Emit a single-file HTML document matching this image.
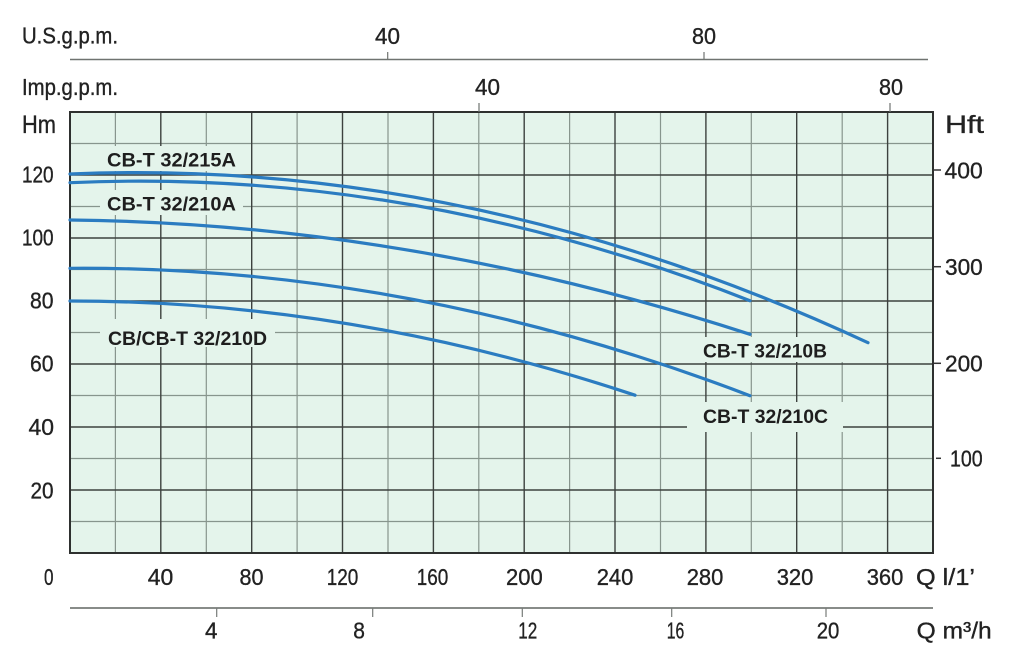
<!DOCTYPE html>
<html><head><meta charset="utf-8"><style>
html,body{margin:0;padding:0;background:#fff;}
svg{display:block;}
text{font-family:"Liberation Sans",sans-serif;fill:#222;stroke:#222;stroke-width:0.35;}
.b{font-weight:bold;fill:#1e1e1e;stroke:none;}
</style></head><body>
<svg width="1018" height="660" viewBox="0 0 1018 660" xmlns="http://www.w3.org/2000/svg">
<rect x="0" y="0" width="1018" height="660" fill="#fff"/>
<!-- plot background -->
<rect x="70" y="112" width="863" height="441" fill="#e4f4eb"/>
<!-- light grid -->
<g stroke="#87958d" stroke-width="1.2">
<line x1="115.4" y1="112" x2="115.4" y2="553"/>
<line x1="206.3" y1="112" x2="206.3" y2="553"/>
<line x1="297.1" y1="112" x2="297.1" y2="553"/>
<line x1="388" y1="112" x2="388" y2="553"/>
<line x1="478.8" y1="112" x2="478.8" y2="553"/>
<line x1="569.6" y1="112" x2="569.6" y2="553"/>
<line x1="660.5" y1="112" x2="660.5" y2="553"/>
<line x1="751.3" y1="112" x2="751.3" y2="553"/>
<line x1="842.2" y1="112" x2="842.2" y2="553"/>
<line x1="70" y1="143.5" x2="933" y2="143.5"/>
<line x1="70" y1="206.5" x2="933" y2="206.5"/>
<line x1="70" y1="269.5" x2="933" y2="269.5"/>
<line x1="70" y1="332.5" x2="933" y2="332.5"/>
<line x1="70" y1="395.5" x2="933" y2="395.5"/>
<line x1="70" y1="458.5" x2="933" y2="458.5"/>
<line x1="70" y1="521.5" x2="933" y2="521.5"/>
</g>
<!-- dark grid -->
<g stroke="#3c413e" stroke-width="1.4">
<line x1="160.8" y1="112" x2="160.8" y2="553"/>
<line x1="251.7" y1="112" x2="251.7" y2="553"/>
<line x1="342.5" y1="112" x2="342.5" y2="553"/>
<line x1="433.4" y1="112" x2="433.4" y2="553"/>
<line x1="524.2" y1="112" x2="524.2" y2="553"/>
<line x1="615" y1="112" x2="615" y2="553"/>
<line x1="705.9" y1="112" x2="705.9" y2="553"/>
<line x1="796.7" y1="112" x2="796.7" y2="553"/>
<line x1="887.6" y1="112" x2="887.6" y2="553"/>
<line x1="70" y1="175" x2="933" y2="175"/>
<line x1="70" y1="238" x2="933" y2="238"/>
<line x1="70" y1="301" x2="933" y2="301"/>
<line x1="70" y1="364" x2="933" y2="364"/>
<line x1="70" y1="427" x2="933" y2="427"/>
<line x1="70" y1="490" x2="933" y2="490"/>
</g>
<!-- label backgrounds -->
<g fill="#e4f4eb">
<rect x="100" y="146" width="143" height="25"/>
<rect x="100" y="190" width="143" height="25"/>
<rect x="100" y="319" width="175" height="28"/>
<rect x="690" y="337" width="153" height="25"/>
<rect x="687" y="402" width="156" height="30"/>
</g>
<!-- frame -->
<rect x="70" y="112" width="863" height="441" fill="none" stroke="#2e302f" stroke-width="2"/>
<!-- curves -->
<g fill="none" stroke="#2b7cc1" stroke-width="3.2" stroke-linecap="round">
<path d="M70,174 Q469,157.2 868,342.7"/>
<path d="M70,182.7 Q410,167.4 750,300.7"/>
<path d="M70,220 Q410,223.6 750,334.3"/>
<path d="M70,268.3 Q410,265.6 750,395.7"/>
<path d="M70,301 Q352.5,301 635,395.2"/>
</g>
<!-- curve labels -->
<text class="b" x="107" y="166.5" font-size="19.5" textLength="129" lengthAdjust="spacingAndGlyphs">CB-T 32/215A</text>
<text class="b" x="107" y="210.5" font-size="19.5" textLength="129" lengthAdjust="spacingAndGlyphs">CB-T 32/210A</text>
<text class="b" x="108" y="345" font-size="19.5" textLength="159" lengthAdjust="spacingAndGlyphs">CB/CB-T 32/210D</text>
<text class="b" x="703" y="357.5" font-size="19.5" textLength="124" lengthAdjust="spacingAndGlyphs">CB-T 32/210B</text>
<text class="b" x="703" y="423" font-size="19.5" textLength="125" lengthAdjust="spacingAndGlyphs">CB-T 32/210C</text>

<!-- top axes -->
<text x="22" y="43.5" font-size="23" textLength="96" lengthAdjust="spacingAndGlyphs">U.S.g.p.m.</text>
<line x1="70" y1="59.5" x2="928" y2="59.5" stroke="#6f7370" stroke-width="1.5"/>
<line x1="387.7" y1="52" x2="387.7" y2="59.5" stroke="#6f7370" stroke-width="1.2"/>
<line x1="704" y1="52" x2="704" y2="59.5" stroke="#6f7370" stroke-width="1.2"/>
<text x="375" y="44" font-size="23" textLength="25" lengthAdjust="spacingAndGlyphs">40</text>
<text x="692" y="44" font-size="23" textLength="24" lengthAdjust="spacingAndGlyphs">80</text>

<text x="22" y="95" font-size="23" textLength="96" lengthAdjust="spacingAndGlyphs">Imp.g.p.m.</text>
<line x1="479" y1="103" x2="479" y2="112" stroke="#6f7370" stroke-width="1.2"/>
<line x1="890" y1="103" x2="890" y2="112" stroke="#6f7370" stroke-width="1.2"/>
<text x="475" y="95" font-size="23" textLength="25" lengthAdjust="spacingAndGlyphs">40</text>
<text x="879" y="95" font-size="23" textLength="24" lengthAdjust="spacingAndGlyphs">80</text>

<!-- left axis -->
<text x="22" y="133" font-size="25" textLength="34" lengthAdjust="spacingAndGlyphs">Hm</text>
<text x="22" y="182.5" font-size="23.5" textLength="31.6" lengthAdjust="spacingAndGlyphs">120</text>
<text x="22" y="245.5" font-size="23.5" textLength="31.6" lengthAdjust="spacingAndGlyphs">100</text>
<text x="30" y="308.5" font-size="23.5" textLength="23.5" lengthAdjust="spacingAndGlyphs">80</text>
<text x="30" y="371.5" font-size="23.5" textLength="23.5" lengthAdjust="spacingAndGlyphs">60</text>
<text x="28.5" y="435" font-size="23.5" textLength="25.5" lengthAdjust="spacingAndGlyphs">40</text>
<text x="30.5" y="498.5" font-size="23.5" textLength="23" lengthAdjust="spacingAndGlyphs">20</text>

<!-- right axis -->
<text x="945" y="133" font-size="25" textLength="39" lengthAdjust="spacingAndGlyphs">Hft</text>
<g stroke="#333" stroke-width="1.5">
<line x1="933" y1="170" x2="941" y2="170"/>
<line x1="933" y1="266.7" x2="941" y2="266.7"/>
<line x1="933" y1="363.3" x2="941" y2="363.3"/>
<line x1="936" y1="458.3" x2="941" y2="458.3"/>
</g>
<text x="944.5" y="178.3" font-size="23.5" textLength="38.2" lengthAdjust="spacingAndGlyphs">400</text>
<text x="945" y="275" font-size="23.5" textLength="37.7" lengthAdjust="spacingAndGlyphs">300</text>
<text x="945" y="371.7" font-size="23.5" textLength="37.7" lengthAdjust="spacingAndGlyphs">200</text>
<text x="950" y="466.5" font-size="23.5" textLength="32.7" lengthAdjust="spacingAndGlyphs">100</text>

<!-- bottom l/min labels -->
<text x="44" y="585" font-size="23.5" textLength="9.5" lengthAdjust="spacingAndGlyphs">0</text>
<text x="147.7" y="585" font-size="23.5" textLength="25.6" lengthAdjust="spacingAndGlyphs">40</text>
<text x="239.5" y="585" font-size="23.5" textLength="24" lengthAdjust="spacingAndGlyphs">80</text>
<text x="326.7" y="585" font-size="23.5" textLength="31.6" lengthAdjust="spacingAndGlyphs">120</text>
<text x="416.7" y="585" font-size="23.5" textLength="31.6" lengthAdjust="spacingAndGlyphs">160</text>
<text x="506" y="585" font-size="23.5" textLength="36.7" lengthAdjust="spacingAndGlyphs">200</text>
<text x="596.7" y="585" font-size="23.5" textLength="36.7" lengthAdjust="spacingAndGlyphs">240</text>
<text x="686.7" y="585" font-size="23.5" textLength="36.7" lengthAdjust="spacingAndGlyphs">280</text>
<text x="776.7" y="585" font-size="23.5" textLength="36.7" lengthAdjust="spacingAndGlyphs">320</text>
<text x="866.7" y="585" font-size="23.5" textLength="36.7" lengthAdjust="spacingAndGlyphs">360</text>
<text x="916" y="585" font-size="23.5" textLength="59" lengthAdjust="spacingAndGlyphs">Q  l/1’</text>

<!-- bottom m3/h axis -->
<line x1="70" y1="608" x2="933" y2="608" stroke="#777b78" stroke-width="1.8"/>
<g stroke="#777b78" stroke-width="1.2">
<line x1="216.7" y1="608" x2="216.7" y2="617"/>
<line x1="372.7" y1="608" x2="372.7" y2="617"/>
<line x1="522.3" y1="608" x2="522.3" y2="617"/>
<line x1="671.7" y1="608" x2="671.7" y2="617"/>
<line x1="826" y1="608" x2="826" y2="617"/>
</g>
<text x="205" y="638.5" font-size="23.5" textLength="12.5" lengthAdjust="spacingAndGlyphs">4</text>
<text x="353.3" y="638.5" font-size="23.5" textLength="11.7" lengthAdjust="spacingAndGlyphs">8</text>
<text x="518.3" y="638.5" font-size="23.5" textLength="19" lengthAdjust="spacingAndGlyphs">12</text>
<text x="666.7" y="638.5" font-size="23.5" textLength="17.5" lengthAdjust="spacingAndGlyphs">16</text>
<text x="816.7" y="638.5" font-size="23.5" textLength="22.6" lengthAdjust="spacingAndGlyphs">20</text>
<text x="916.7" y="638.5" font-size="23.5" textLength="75" lengthAdjust="spacingAndGlyphs">Q  m³/h</text>
</svg>
</body></html>
